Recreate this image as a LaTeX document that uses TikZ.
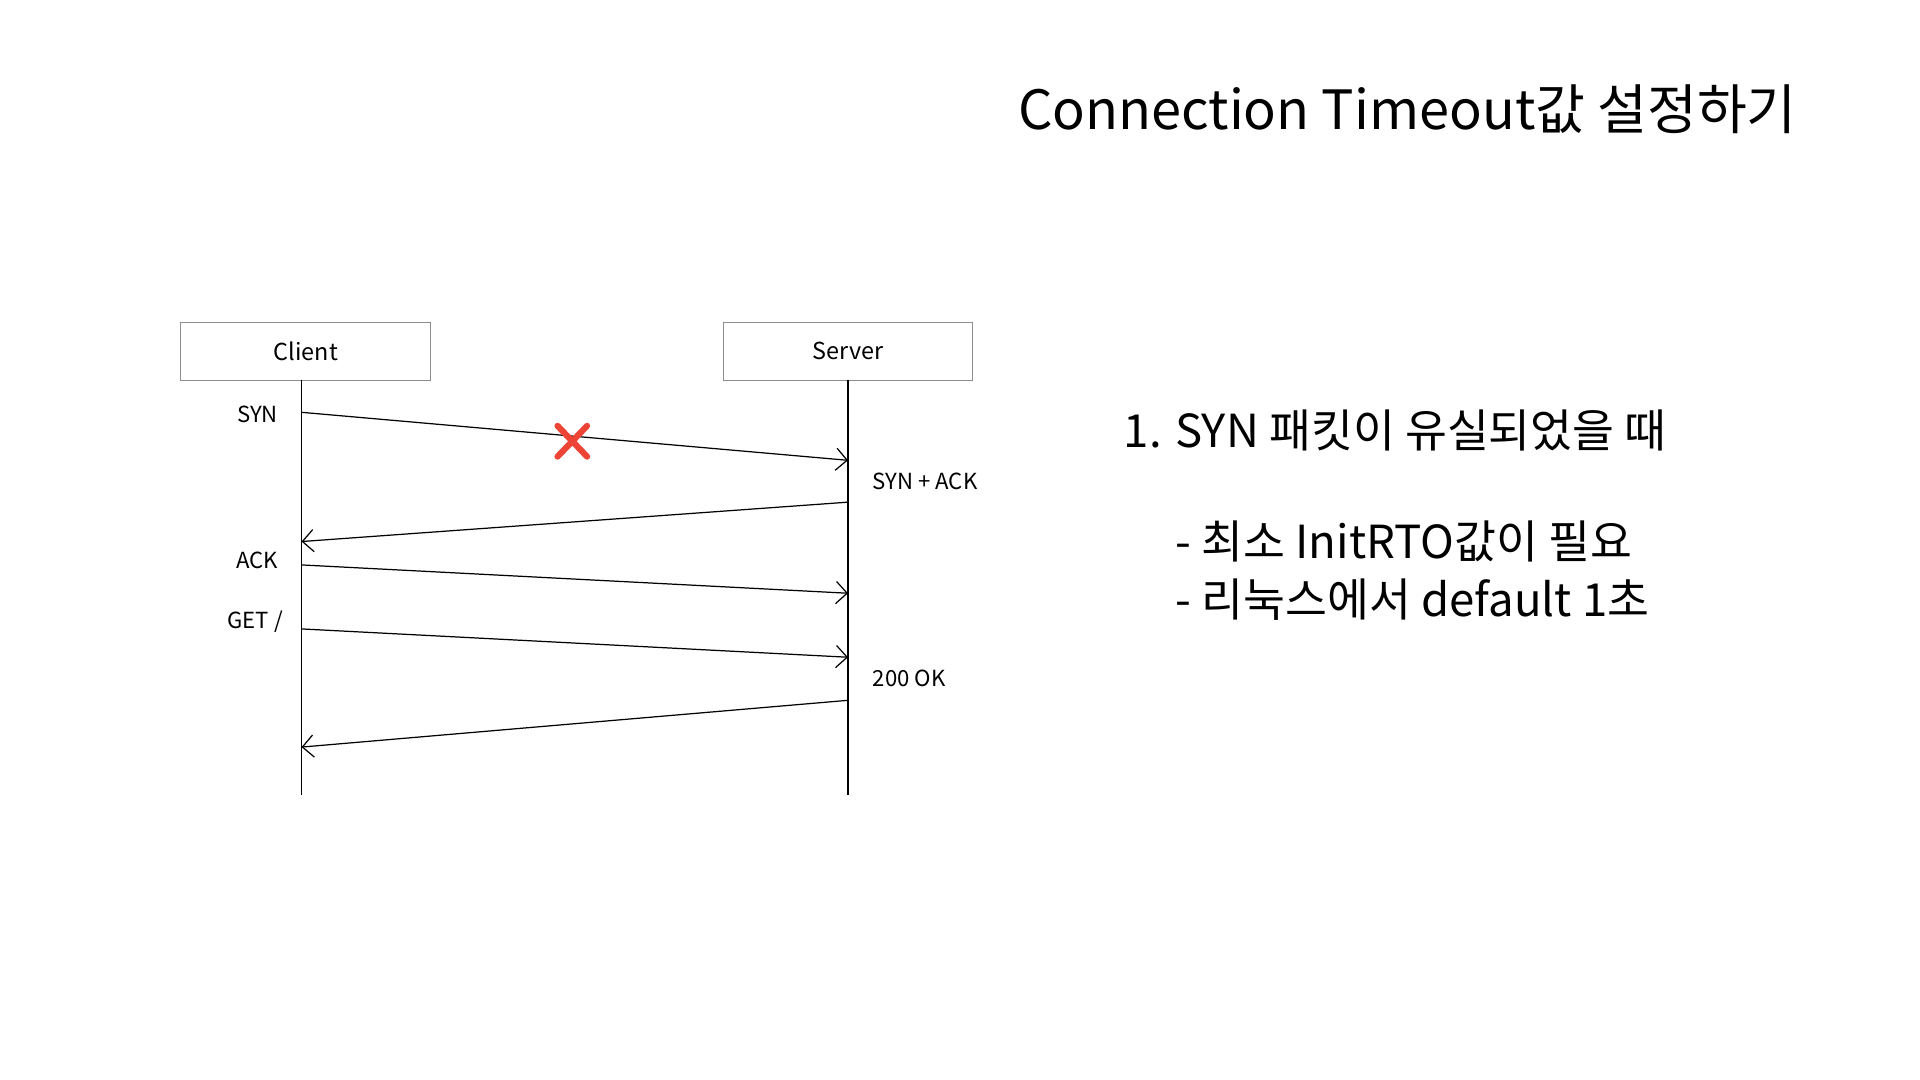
\documentclass[tikz,border=0pt]{standalone}
\usepackage{fontspec}
\setmainfont{Noto Sans CJK KR}
\usetikzlibrary{arrows.meta}
\definecolor{xred}{HTML}{EE4436}
\begin{document}
\begin{tikzpicture}[x=1pt,y=-1pt,
  actor/.style={draw=black!45,line width=0.8pt,minimum width=203pt,minimum height=47pt,inner sep=0pt,font=\fontsize{19}{22}\selectfont},
  msg/.style={line width=1pt,-{Straight Barb[length=9pt,width=18pt,line width=1pt]}},
  lbl/.style={font=\fontsize{18}{21}\selectfont,inner sep=0pt},
  big/.style={font=\fontsize{37}{44}\selectfont,inner sep=0pt,anchor=west}]
\useasboundingbox (0,0) rectangle (1560,877.5);
\node[actor] (client) at (248.5,285.5) {Client};
\node[actor] (server) at (689,285.5) {Server};
\coordinate (cb) at (245,646); \coordinate (sb) at (689,646);
\draw[line width=1pt] (245,309) -- (cb);
\draw[line width=1pt] (689,309) -- (sb);
\coordinate (a1) at (245,335); \coordinate (b1) at (689,374);
\coordinate (b2) at (689,408); \coordinate (a2) at (245,440);
\coordinate (a3) at (245,459); \coordinate (b3) at (689,482);
\coordinate (a4) at (245,511); \coordinate (b4) at (689,534);
\coordinate (b5) at (689,569); \coordinate (a5) at (245,607);
\draw[msg] (a1) -- (b1);
\draw[msg] (b2) -- (a2);
\draw[msg] (a3) -- (b3);
\draw[msg] (a4) -- (b4);
\draw[msg] (b5) -- (a5);
\draw[xred,line width=5pt,line cap=round] (453,346) -- (477,371) (477,346) -- (453,371);
\node[lbl,anchor=east] (l1) at (226,337) {SYN};
\node[lbl,anchor=west] (l2) at (709,391) {SYN + ACK};
\node[lbl,anchor=east] (l3) at (226,455) {ACK};
\node[lbl,anchor=east] (l4) at (230,505) {GET /};
\node[lbl,anchor=west] (l5) at (709,551) {200 OK};
\node[font=\fontsize{44}{52}\selectfont,inner sep=0pt,anchor=east] (title) at (1460,89) {Connection Timeout값 설정하기};
\node[big] (t1) at (913,350) {1. SYN 패킷이 유실되었을 때};
\node[big] (t2) at (955,440) {- 최소 InitRTO값이 필요};
\node[big] (t3) at (955,487) {- 리눅스에서 default 1초};
\end{tikzpicture}
\end{document}
